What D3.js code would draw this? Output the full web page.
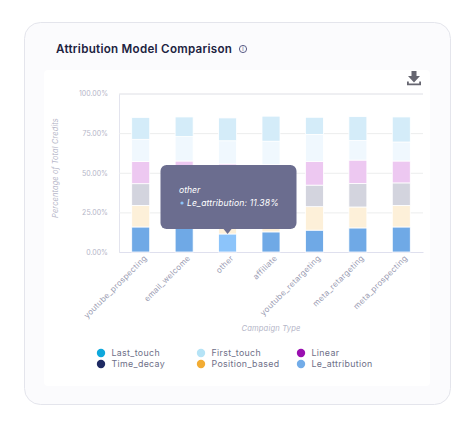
<!DOCTYPE html>
<html>
<head>
<meta charset="utf-8">
<script src="https://cdn.jsdelivr.net/npm/d3@7"></script>
<style>
  html, body { margin: 0; padding: 0; background: #fff; }
  svg { display: block; font-family: "Inter", sans-serif; }
</style>
</head>
<body>
<svg width="474" height="426"></svg>
<script>
// values, hidden parts behind the tooltip are estimates
const campaigns = ['youtube_prospecting', 'email_welcome', 'other', 'affiliate', 'youtube_retargeting', 'meta_retargeting', 'meta_prospecting'];
const seriesNames = ['Le_attribution', 'Position_based', 'Time_decay', 'Linear', 'First_touch', 'Last_touch'];
const leAttribution = [15.8, 15.6, 11.38, 12.7, 13.8, 15.2, 15.8];
const positionBased = [13.6, 14.2, 16.0, 15.0, 14.8, 13.2, 13.6];
const timeDecay = [13.7, 13.4, 14.0, 14.0, 13.6, 14.8, 14.2];
const linear = [14.0, 14.2, 14.2, 13.6, 15.0, 14.8, 13.8];
const firstTouch = [14.0, 15.4, 14.6, 14.6, 17.0, 12.4, 12.0];
const lastTouch = [13.8, 12.4, 14.4, 15.8, 10.8, 15.0, 15.8];
const tickValues = [0, 25, 50, 75, 100];
const seriesColors = ['#6fa9e6', '#fdf0d9', '#d3d4de', '#edc8f1', '#f0f8fe', '#d4ecf9'];
const legendColors = ['#0fa8dc', '#b5e3f6', '#9a0fb0', '#1e2a63', '#f2ac33', '#72ace8'];
const legendNames = ['Last_touch', 'First_touch', 'Linear', 'Time_decay', 'Position_based', 'Le_attribution'];

const svg = d3.select('svg');

// outer card and inner panel
svg.append('rect').attr('x', 24.5).attr('y', 22.5).attr('width', 426).attr('height', 382).attr('rx', 16)
  .attr('fill', '#fbfbfd').attr('stroke', '#e4e5ec');
svg.append('rect').attr('x', 44).attr('y', 70).attr('width', 386).attr('height', 316).attr('rx', 4).attr('fill', '#fff');

svg.append('text').attr('x', 56).attr('y', 53)
  .attr('font-size', 11.6).attr('font-weight', 600).attr('letter-spacing', 0.28).attr('fill', '#20223f')
  .text('Attribution Model Comparison');
svg.append('circle').attr('cx', 243).attr('cy', 49).attr('r', 3.6).attr('fill', 'none').attr('stroke', '#4a4c7a').attr('stroke-width', 0.9);
svg.append('text').attr('x', 243).attr('y', 51).attr('text-anchor', 'middle').attr('font-size', 5.5).attr('fill', '#4a4c7a').text('i');

// download icon
const icon = svg.append('g').attr('fill', '#666670');
icon.append('path').attr('d', 'M411.5 71h5v5h3.5l-6 6.5-6-6.5h3.5z');
icon.append('path').attr('d', 'M407 81.5h1.8v2h10.4v-2h1.8v3.8h-14z');

const xScale = d3.scaleBand().domain(campaigns).range([119, 423]);
const yScale = d3.scaleLinear().domain([0, 100]).range([252, 93.5]);
const barWidth = 18;

// axes
const yAxis = d3.axisLeft(yScale).tickValues(tickValues).tickSize(-304).tickPadding(11)
  .tickFormat(d => d.toFixed(2) + '%');
const yAxisG = svg.append('g').attr('transform', 'translate(119,0)').call(yAxis);
yAxisG.attr('font-family', null);
yAxisG.selectAll('.domain').attr('stroke', '#e3e4ee');
yAxisG.selectAll('line').attr('stroke', '#eceded');
yAxisG.selectAll('text').attr('fill', '#b5b6c8').attr('font-size', 7);

const xAxis = d3.axisBottom(xScale).tickSize(0).tickPadding(7);
const xAxisG = svg.append('g').attr('transform', 'translate(0,252)').call(xAxis);
xAxisG.attr('font-family', null);
xAxisG.selectAll('.domain').attr('stroke', '#dfe0ee');
xAxisG.selectAll('text')
  .attr('fill', '#9a9bb2').attr('font-size', 8).attr('letter-spacing', 0.28)
  .attr('text-anchor', 'end').attr('dy', '0.3em')
  .attr('transform', 'rotate(-45)');

svg.append('text').attr('transform', 'translate(58,168) rotate(-90)')
  .attr('text-anchor', 'middle').attr('font-size', 7.4).attr('letter-spacing', 0.15).attr('font-style', 'italic').attr('fill', '#b5b6c8')
  .text('Percentage of Total Credits');
svg.append('text').attr('x', 271).attr('y', 331)
  .attr('text-anchor', 'middle').attr('font-size', 7.6).attr('letter-spacing', 0.15).attr('font-style', 'italic').attr('fill', '#b5b6c8')
  .text('Campaign Type');

// stacked bars
const rows = campaigns.map((c, i) => ({
  campaign: c,
  Le_attribution: leAttribution[i],
  Position_based: positionBased[i],
  Time_decay: timeDecay[i],
  Linear: linear[i],
  First_touch: firstTouch[i],
  Last_touch: lastTouch[i]
}));
const stack = d3.stack().keys(seriesNames)(rows);
svg.append('g').selectAll('g').data(stack).join('g')
  .attr('fill', (d, i) => seriesColors[i])
  .selectAll('rect').data(d => d).join('rect')
  .attr('x', d => xScale(d.data.campaign) + (xScale.bandwidth() - barWidth) / 2)
  .attr('width', barWidth)
  .attr('y', d => yScale(d[1]))
  .attr('height', d => yScale(d[0]) - yScale(d[1]))
  .attr('stroke', '#fff').attr('stroke-width', 0.8)
  .filter(d => d.data.campaign === 'other' && d[0] === 0)
  .attr('fill', '#8cc4fa');

// tooltip
const tipX = xScale('other') + xScale.bandwidth() / 2;
const tip = svg.append('g');
tip.append('rect').attr('x', 160.5).attr('y', 165).attr('width', 136).attr('height', 64).attr('rx', 6).attr('fill', '#6b6d8f');
tip.append('path').attr('d', d3.line()([[tipX - 4, 229], [tipX + 4, 229], [tipX, 234]])).attr('fill', '#6b6d8f');
tip.append('text').attr('x', 179).attr('y', 193).attr('font-size', 8.6).attr('font-style', 'italic').attr('fill', '#fff').text('other');
tip.append('circle').attr('cx', 182).attr('cy', 203).attr('r', 1.6).attr('fill', '#8cc4fa');
tip.append('text').attr('x', 187).attr('y', 206).attr('font-size', 8.6).attr('letter-spacing', 0.15).attr('font-style', 'italic').attr('fill', '#fff')
  .text('Le_attribution: ' + leAttribution[2] + '%');

// legend, 3 columns by 2 rows
const legendX = [101, 201, 301];
const legendY = [353, 364];
const legend = svg.append('g').selectAll('g').data(legendNames).join('g')
  .attr('transform', (d, i) => `translate(${legendX[i % 3]},${legendY[Math.floor(i / 3)]})`);
legend.append('circle').attr('r', 4.2).attr('fill', (d, i) => legendColors[i]);
legend.append('text').attr('x', 10.5).attr('dy', '0.35em').attr('font-size', 8.8).attr('letter-spacing', 0.35).attr('fill', '#6e6f88').text(d => d);
</script>
</body>
</html>
